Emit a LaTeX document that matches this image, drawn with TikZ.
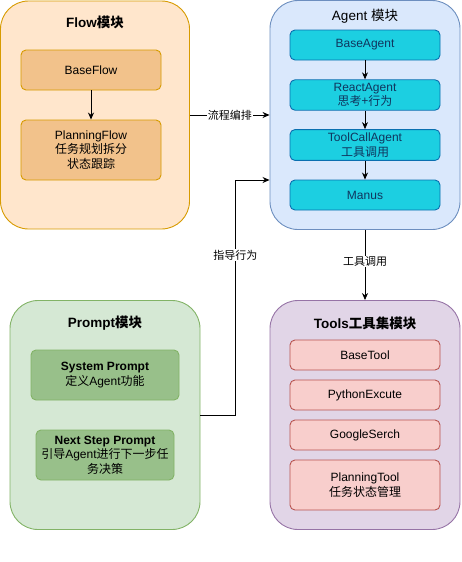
\documentclass[tikz,border=0pt]{standalone}
\usepackage{fontspec}
\setmainfont{Liberation Sans}
\newfontfamily\zhfont{Noto Sans CJK SC}
\newcommand{\zh}[1]{{\zhfont #1}}
\usepackage{xcolor}
\usetikzlibrary{arrows.meta}

\definecolor{flowbg}{HTML}{FFE6CC}
\definecolor{flowline}{HTML}{D79B00}
\definecolor{flowitem}{HTML}{F2C28B}
\definecolor{agentbg}{HTML}{DAE8FC}
\definecolor{agentline}{HTML}{6C8EBF}
\definecolor{agentitem}{HTML}{1CCFE1}
\definecolor{agentitemline}{HTML}{0A6FB0}
\definecolor{agenttext}{HTML}{10355E}
\definecolor{promptbg}{HTML}{D5E8D4}
\definecolor{promptline}{HTML}{82B366}
\definecolor{promptitem}{HTML}{98C08A}
\definecolor{toolsbg}{HTML}{E1D5E7}
\definecolor{toolsline}{HTML}{9673A6}
\definecolor{toolsitem}{HTML}{F8CECC}
\definecolor{toolsitemline}{HTML}{B85450}

\tikzset{
	module/.style={draw, rounded corners=28pt, line width=0.9pt, minimum width=190pt, minimum height=229pt},
	item/.style={draw, rounded corners=5pt, line width=0.9pt, minimum width=150pt, minimum height=30pt, align=center, font=\fontsize{12}{14.5}\selectfont},
	title/.style={font=\fontsize{13.5}{16}\selectfont\bfseries},
	link/.style={-{Stealth[length=7pt,width=6pt]}, line width=0.8pt},
	linklabel/.style={fill=white, inner sep=1pt, font=\fontsize{11}{13}\selectfont},
}

\begin{document}
\begin{tikzpicture}[x=1pt, y=-1pt]
	\useasboundingbox (0, 0) rectangle (461, 562);
	% Flow module
	\node[module, fill=flowbg, draw=flowline, minimum width=189pt, minimum height=228pt] (flow) at (95, 115){};
	\node[title] (flowtitle) at (95, 22){Flow\zh{模块}};
	\node[item, fill=flowitem, draw=flowline, minimum width=140pt, minimum height=40pt] (baseflow) at (91, 70){BaseFlow};
	\node[item, fill=flowitem, draw=flowline, minimum width=140pt, minimum height=60pt] (planflow) at (91, 150){PlanningFlow\\\zh{任务规划拆分}\\\zh{状态跟踪}};
	% Agent module
	\node[module, fill=agentbg, draw=agentline] (agent) at (365, 115){};
	\node[font=\fontsize{13.5}{16}\selectfont] (agenttitle) at (365, 16){Agent \zh{模块}};
	\node[item, fill=agentitem, draw=agentitemline, text=agenttext] (baseagent) at (365, 45){BaseAgent};
	\node[item, fill=agentitem, draw=agentitemline, text=agenttext] (reactagent) at (365, 95){ReactAgent\\\zh{思考+行为}};
	\node[item, fill=agentitem, draw=agentitemline, text=agenttext] (toolagent) at (365, 145){ToolCallAgent\\\zh{工具调用}};
	\node[item, fill=agentitem, draw=agentitemline, text=agenttext] (manus) at (365, 195){Manus};
	% Prompt module
	\node[module, fill=promptbg, draw=promptline] (prompt) at (105, 415){};
	\node[title] (prompttitle) at (105, 323){Prompt\zh{模块}};
	\node[item, fill=promptitem, draw=promptline, minimum width=148pt, minimum height=50pt] (sysprompt) at (105, 375){\textbf{System Prompt}\\\zh{定义}Agent\zh{功能}};
	\node[item, fill=promptitem, draw=promptline, minimum width=138pt, minimum height=50pt] (nextprompt) at (105, 455){\textbf{Next Step Prompt}\\\zh{引导}Agent\zh{进行下一步任}\\\zh{务决策}};
	% Tools module
	\node[module, fill=toolsbg, draw=toolsline] (tools) at (365, 415){};
	\node[title] (toolstitle) at (365, 323){Tools\zh{工具集模块}};
	\node[item, fill=toolsitem, draw=toolsitemline] (basetool) at (365, 355){BaseTool};
	\node[item, fill=toolsitem, draw=toolsitemline] (pytool) at (365, 395){PythonExcute};
	\node[item, fill=toolsitem, draw=toolsitemline] (googletool) at (365, 435){GoogleSerch};
	\node[item, fill=toolsitem, draw=toolsitemline, minimum height=50pt] (plantool) at (365, 485){PlanningTool\\\zh{任务状态管理}};
	% Connectors
	\draw[link] (baseflow) -- (planflow);
	\draw[link] (baseagent) -- (reactagent);
	\draw[link] (reactagent) -- (toolagent);
	\draw[link] (toolagent) -- (manus);
	\draw[link] (flow.east) -- node[linklabel]{\zh{流程编排}} (agent.west);
	\draw[link] (prompt.east) -- ++(35, 0) |- node[pos=0.34, linklabel]{\zh{指导行为}} ([yshift=-65pt]agent.west);
	\draw[link] (agent) -- node[linklabel, pos=0.45]{\zh{工具调用}} (tools);
\end{tikzpicture}
\end{document}
